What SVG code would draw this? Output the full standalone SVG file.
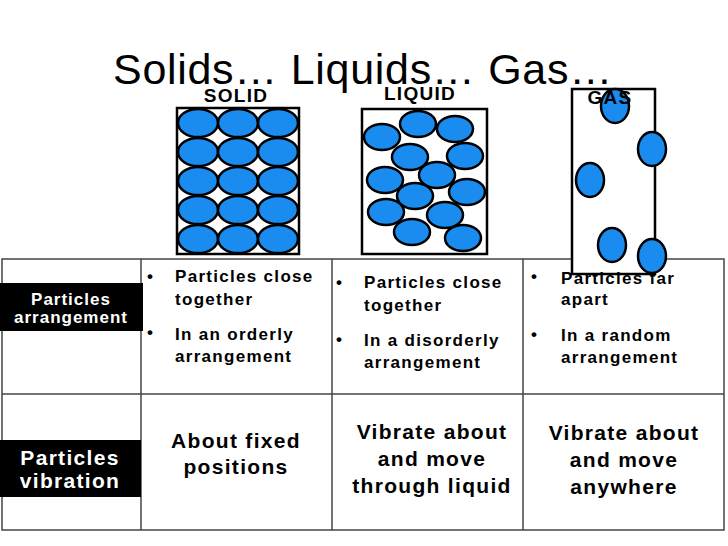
<svg xmlns="http://www.w3.org/2000/svg" width="728" height="546" viewBox="0 0 728 546">
<style>
text{font-family:"Liberation Sans",Arial,sans-serif;font-weight:bold;fill:#000;letter-spacing:1.3px}
.p{fill:#1a8cf0;stroke:#000;stroke-width:2.5}
.box{fill:#fff;stroke:#000;stroke-width:2.5}
.g{fill:none;stroke:#444;stroke-width:1.5}
.t{font-size:17px}
.c{font-size:21px;text-anchor:middle}
.w{fill:#fff}
</style>
<rect width="728" height="546" fill="#fff"/>
<text x="113" y="84" style="font-weight:normal;font-size:43px;letter-spacing:0.7px">Solids… Liquids… Gas…</text>
<g id="table">
<rect class="g" x="2" y="259" width="722" height="271"/>
<line class="g" x1="141" y1="259" x2="141" y2="530"/>
<line class="g" x1="332" y1="259" x2="332" y2="530"/>
<line class="g" x1="523" y1="259" x2="523" y2="530"/>
<line class="g" x1="2" y1="394" x2="724" y2="394"/>
</g>
<g id="solid">
<text x="236" y="102" style="font-size:19px;text-anchor:middle">SOLID</text>
<rect class="box" x="177" y="108" width="122" height="146"/>
<g>
<ellipse class="p" cx="198" cy="123" rx="20" ry="14"/><ellipse class="p" cx="238" cy="123" rx="20" ry="14"/><ellipse class="p" cx="278" cy="123" rx="20" ry="14"/>
<ellipse class="p" cx="198" cy="152" rx="20" ry="14"/><ellipse class="p" cx="238" cy="152" rx="20" ry="14"/><ellipse class="p" cx="278" cy="152" rx="20" ry="14"/>
<ellipse class="p" cx="198" cy="181" rx="20" ry="14"/><ellipse class="p" cx="238" cy="181" rx="20" ry="14"/><ellipse class="p" cx="278" cy="181" rx="20" ry="14"/>
<ellipse class="p" cx="198" cy="210" rx="20" ry="14"/><ellipse class="p" cx="238" cy="210" rx="20" ry="14"/><ellipse class="p" cx="278" cy="210" rx="20" ry="14"/>
<ellipse class="p" cx="198" cy="239" rx="20" ry="14"/><ellipse class="p" cx="238" cy="239" rx="20" ry="14"/><ellipse class="p" cx="278" cy="239" rx="20" ry="14"/>
</g>
</g>
<g id="liquid">
<text x="420" y="100" style="font-size:19px;text-anchor:middle">LIQUID</text>
<rect class="box" x="362" y="109" width="125" height="145"/>
<ellipse class="p" cx="382" cy="137" rx="18" ry="13"/>
<ellipse class="p" cx="418" cy="124" rx="18" ry="13"/>
<ellipse class="p" cx="455" cy="129" rx="18" ry="13"/>
<ellipse class="p" cx="410" cy="157" rx="18" ry="13"/>
<ellipse class="p" cx="465" cy="156" rx="18" ry="13"/>
<ellipse class="p" cx="385" cy="180" rx="18" ry="13"/>
<ellipse class="p" cx="437" cy="175" rx="18" ry="13"/>
<ellipse class="p" cx="467" cy="192" rx="18" ry="13"/>
<ellipse class="p" cx="415" cy="196" rx="18" ry="13"/>
<ellipse class="p" cx="386" cy="212" rx="18" ry="13"/>
<ellipse class="p" cx="445" cy="215" rx="18" ry="13"/>
<ellipse class="p" cx="412" cy="232" rx="18" ry="13"/>
<ellipse class="p" cx="463" cy="238" rx="18" ry="13"/>
</g>
<g id="gas">
<rect class="box" x="572" y="89" width="83" height="185"/>
<ellipse class="p" cx="615" cy="106" rx="14" ry="17"/>
<ellipse class="p" cx="652" cy="149" rx="14" ry="17"/>
<ellipse class="p" cx="590" cy="180" rx="14" ry="17"/>
<ellipse class="p" cx="612" cy="245" rx="14" ry="17"/>
<ellipse class="p" cx="652" cy="256" rx="14" ry="17"/>
<text x="610" y="104" style="font-size:19px;text-anchor:middle">GAS</text>
</g>
<g id="row1">
<rect x="0" y="283" width="143" height="48" fill="#000"/>
<text class="w" x="71" y="305" style="font-size:17px;text-anchor:middle;letter-spacing:1px">Particles</text>
<text class="w" x="71" y="323" style="font-size:17px;text-anchor:middle;letter-spacing:1px">arrangement</text>
<g class="t"><text x="147" y="282">•</text><text x="175" y="282">Particles close</text><text x="175" y="305">together</text>
<text x="147" y="338">•</text><text x="175" y="340">In an orderly</text><text x="175" y="362">arrangement</text>
<text x="336" y="288">•</text><text x="364" y="288">Particles close</text><text x="364" y="311">together</text>
<text x="336" y="345">•</text><text x="364" y="346">In a disorderly</text><text x="364" y="368">arrangement</text>
<text x="531" y="282">•</text><text x="561" y="284">Particles far</text><text x="561" y="305">apart</text>
<text x="531" y="340">•</text><text x="561" y="341">In a random</text><text x="561" y="363">arrangement</text></g>
</g>
<g id="row2">
<rect x="0" y="440" width="141" height="57" fill="#000"/>
<text class="w" x="70" y="465" style="font-size:21px;text-anchor:middle">Particles</text>
<text class="w" x="70" y="488" style="font-size:21px;text-anchor:middle">vibration</text>
<text class="c" x="236" y="448">About fixed</text><text class="c" x="236" y="474">positions</text>
<text class="c" x="432" y="439">Vibrate about</text><text class="c" x="432" y="466">and move</text><text class="c" x="432" y="493">through liquid</text>
<text class="c" x="624" y="440">Vibrate about</text><text class="c" x="624" y="467">and move</text><text class="c" x="624" y="494">anywhere</text>
</g>
</svg>
